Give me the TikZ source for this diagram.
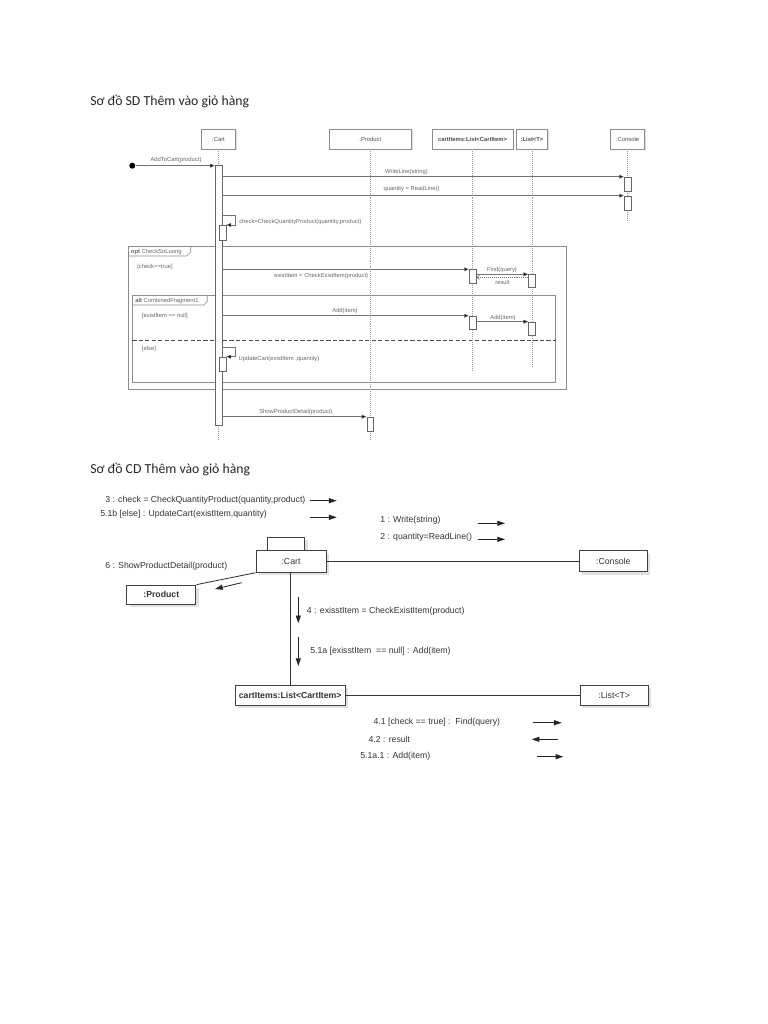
\documentclass[tikz,border=0pt]{standalone}
\usepackage{fontspec}
\setmainfont{Liberation Sans}
\newfontfamily\titlefont{Carlito}
\usetikzlibrary{arrows.meta,shadows}

\begin{document}
\begin{tikzpicture}[x=0.025cm,y=-0.025cm,
                title/.style={font=\titlefont\fontsize{9.8}{11}\selectfont, text=black!85, anchor=west, inner sep=0},
                sdtext/.style={font=\fontsize{4.15}{5}\selectfont, text=black!60, inner sep=0},
                cdtext/.style={font=\fontsize{6.2}{7}\selectfont, text=black!80, anchor=west, inner sep=0},
                lifehead/.style={draw=black!45, fill=white, line width=0.4pt, minimum height=0.5cm, inner sep=0,
                        font=\fontsize{4.15}{5}\selectfont, text=black!70,
                        drop shadow={shadow xshift=0.8pt, shadow yshift=-0.8pt, fill=black!12, opacity=1}},
                lifeline/.style={draw=black!40, line width=0.35pt, dash pattern=on 0.7pt off 0.7pt},
                actbar/.style={draw=black!60, fill=white, line width=0.4pt, anchor=north, minimum width=0.17cm, inner sep=0},
                msg/.style={draw=black!55, line width=0.4pt, -{Triangle[length=3.5pt,width=2.8pt,fill=black]}},
                retmsg/.style={draw=black!55, line width=0.4pt, dash pattern=on 0.7pt off 0.7pt, -{Straight Barb[length=2pt,width=3pt]}},
                fragline/.style={draw=black!45, line width=0.45pt},
                guardline/.style={draw=black!70, line width=0.7pt, dash pattern=on 3pt off 1.6pt},
                startdot/.style={circle, fill=black, inner sep=0, minimum size=0.15cm},
                cdbox/.style={draw=black!75, fill=white, line width=0.6pt, inner sep=0,
                        font=\fontsize{6.2}{7}\selectfont, text=black!80,
                        drop shadow={shadow xshift=2pt, shadow yshift=-2pt, fill=black!12, opacity=1}},
                cdlink/.style={draw=black!80, line width=0.6pt},
                cdmsg/.style={draw=black!85, line width=0.6pt, -{Triangle[length=5.5pt,width=3.6pt]}}]

                \useasboundingbox (0,0) rectangle (768,1024);

                \node[title] (sdtitle) at (90,102) {Sơ đồ SD Thêm vào giỏ hàng};

                \draw[fragline] (128.3,246) rectangle (566.7,389);
                \draw[fragline] (128.3,256) -- (186.7,256) -- (190.7,252) -- (190.7,246);
                \node[sdtext, anchor=west] (optlbl) at (130.7,251.5) {\textbf{opt} CheckSoLuong};

                \draw[fragline] (132.3,295) rectangle (555.7,382.7);
                \draw[fragline] (132.3,305) -- (204,305) -- (207.3,301) -- (207.3,295);
                \node[sdtext, anchor=west] (altlbl) at (135,300.5) {\textbf{alt} CombinedFragment1};
                \draw[guardline] (132.3,340) -- (555.7,340);

                \node[sdtext, anchor=west] (guard1) at (137,267) {[check==true]};
                \node[sdtext, anchor=west] (guard2) at (141.7,316) {[existItem == null]};
                \node[sdtext, anchor=west] (guard3) at (141.7,349.3) {[else]};

                \node[lifehead, minimum width=0.85cm] (cart) at (218.5,139) {:Cart};
                \node[lifehead, minimum width=2.06cm] (product) at (370.3,139) {:Product};
                \node[lifehead, minimum width=2.01cm, font=\bfseries\fontsize{4.15}{5}\selectfont] (items) at (472.6,139) {cartItems:List<CartItem>};
                \node[lifehead, minimum width=0.78cm, font=\bfseries\fontsize{4.15}{5}\selectfont] (listt) at (532,139) {:List<T>};
                \node[lifehead, minimum width=0.85cm] (console) at (627.6,139) {:Console};

                \coordinate (cartend) at (218.5,439);
                \coordinate (productend) at (370.3,439);
                \coordinate (itemsend) at (472.6,371);
                \coordinate (listtend) at (532,367);
                \coordinate (consoleend) at (627.6,222);

                \draw[lifeline] (cart) -- (cartend);
                \draw[lifeline] (product) -- (productend);
                \draw[lifeline] (items) -- (itemsend);
                \draw[lifeline] (listt) -- (listtend);
                \draw[lifeline] (console) -- (consoleend);

                \node[actbar, minimum height=6.49cm] (cartbar) at (218.5,165.5) {};
                \node[actbar, minimum height=0.38cm] (checkbar) at (222.5,225) {};
                \node[actbar, minimum height=0.35cm] (updbar) at (222.5,356.7) {};
                \node[actbar, minimum height=0.35cm] (conbar1) at (627.6,176.7) {};
                \node[actbar, minimum height=0.36cm] (conbar2) at (627.6,195.7) {};
                \node[actbar, minimum height=0.335cm] (itembar1) at (472.6,269.3) {};
                \node[actbar, minimum height=0.325cm] (listbar1) at (532,274.3) {};
                \node[actbar, minimum height=0.34cm] (itembar2) at (472.6,315.7) {};
                \node[actbar, minimum height=0.333cm] (listbar2) at (532,321.7) {};
                \node[actbar, minimum height=0.35cm] (prodbar) at (370.3,416.7) {};

                \node[startdot] (start) at (132.3,165.7) {};
                \draw[msg] (start) -- (start -| cartbar.west);
                \node[sdtext] (addlbl) at (176,160) {AddToCart(product)};

                \draw[msg] (cartbar.east |- conbar1.north) -- (conbar1.north west);
                \node[sdtext] (writelbl) at (406.5,172.3) {WriteLine(string)};
                \draw[msg] (cartbar.east |- conbar2.north) -- (conbar2.north west);
                \node[sdtext] (readlbl) at (411.5,188.5) {quantity = ReadLine()};

                \coordinate (checkturn) at (235.7,215.7);
                \draw[msg] (cartbar.east |- checkturn) -- (checkturn) |- (checkbar.north east);
                \node[sdtext, anchor=west] (checklbl) at (239,221.7) {check=CheckQuantityProduct(quantity,product)};

                \draw[msg] (cartbar.east |- itembar1.north) -- (itembar1.north west);
                \node[sdtext] (existlbl) at (321.2,275.7) {existItem = CheckExistItem(product)};
                \draw[msg] (itembar1.east |- listbar1.north) -- (listbar1.north west);
                \node[sdtext] (findlbl) at (502,270) {Find(query)};
                \coordinate (resmid) at (502.5,277.3);
                \draw[retmsg] (listbar1.west |- resmid) -- (itembar1.east |- resmid);
                \node[sdtext] (reslbl) at (502.5,282.5) {result};

                \draw[msg] (cartbar.east |- itembar2.north) -- (itembar2.north west);
                \node[sdtext] (add1lbl) at (345,310.7) {Add(item)};
                \draw[msg] (itembar2.east |- listbar2.north) -- (listbar2.north west);
                \node[sdtext] (add2lbl) at (503,317.7) {Add(item)};

                \coordinate (updturn) at (235.7,347.3);
                \draw[msg] (cartbar.east |- updturn) -- (updturn) |- (updbar.north east);
                \node[sdtext, anchor=west] (updlbl) at (238.3,359) {UpdateCart(existItem ,quantity)};

                \draw[msg] (cartbar.east |- prodbar.north) -- (prodbar.north west);
                \node[sdtext] (showlbl) at (295.8,411.7) {ShowProductDetail(product)};

                \node[title] (cdtitle) at (90,470) {Sơ đồ CD Thêm vào giỏ hàng};

                \node[cdbox, minimum width=0.93cm, minimum height=0.335cm] (carttab) at (286.3,544) {};
                \node[cdbox, minimum width=1.75cm, minimum height=0.54cm] (cdcart) at (291,561.5) {:Cart};
                \node[cdbox, minimum width=1.7cm, minimum height=0.525cm] (cdconsole) at (613.3,561.2) {:Console};
                \node[cdbox, minimum width=1.73cm, minimum height=0.48cm, font=\bfseries\fontsize{6.2}{7}\selectfont] (cdproduct) at (161.3,594.7) {:Product};
                \node[cdbox, minimum width=2.76cm, minimum height=0.5cm, font=\bfseries\fontsize{6.2}{7}\selectfont] (cditems) at (290.2,695) {cartItems:List<CartItem>};
                \node[cdbox, minimum width=1.71cm, minimum height=0.5cm] (cdlist) at (614.2,695) {:List<T>};

                \draw[cdlink] (cdcart.east) -- (cdcart.east -| cdconsole.west);
                \draw[cdlink] (cdcart.south west) -- (cdproduct.north east);
                \draw[cdlink] (cdcart.south -| cditems.north) -- (cditems.north);
                \draw[cdlink] (cditems.east) -- (cdlist.west);

                \node[cdtext] (m3) at (105,500) {3 : check = CheckQuantityProduct(quantity,product)};
                \node[cdtext] (m51b) at (100,514) {5.1b [else] : UpdateCart(existItem,quantity)};
                \node[cdtext] (m1) at (380,520.7) {1 : Write(string)};
                \node[cdtext] (m2) at (380,537.3) {2 : quantity=ReadLine()};
                \node[cdtext] (m6) at (105,566.7) {6 : ShowProductDetail(product)};
                \node[cdtext] (m4) at (306.7,611.7) {4 : exisstItem = CheckExistItem(product)};
                \node[cdtext] (m51a) at (310,651.7) {5.1a [exisstItem\ \ == null] : Add(item)};
                \node[cdtext] (m41) at (373.3,722.7) {4.1 [check == true] :\ \ Find(query)};
                \node[cdtext] (m42) at (368.3,739.3) {4.2 : result};
                \node[cdtext] (m51a1) at (360,756) {5.1a.1 : Add(item)};

                \coordinate (a3s) at (310,500.7);
                \coordinate (a3e) at (336.7,500.7);
                \coordinate (a51bs) at (310,517.3);
                \coordinate (a51be) at (336.7,517.3);
                \coordinate (a1s) at (478.3,523.3);
                \coordinate (a1e) at (505,523.3);
                \coordinate (a2s) at (478.3,539.3);
                \coordinate (a2e) at (505,539.3);
                \coordinate (a6s) at (241.7,582.7);
                \coordinate (a6e) at (215,589);
                \coordinate (a4s) at (298.3,596.7);
                \coordinate (a4e) at (298.3,623.3);
                \coordinate (a51as) at (298.3,636.7);
                \coordinate (a51ae) at (298.3,666);
                \coordinate (a41s) at (533.3,722.7);
                \coordinate (a41e) at (561.7,722.7);
                \coordinate (a42s) at (558.3,739.3);
                \coordinate (a42e) at (531.7,739.3);
                \coordinate (a51a1s) at (536.7,756.7);
                \coordinate (a51a1e) at (563.3,756.7);

                \draw[cdmsg] (a3s) -- (a3e);
                \draw[cdmsg] (a51bs) -- (a51be);
                \draw[cdmsg] (a1s) -- (a1e);
                \draw[cdmsg] (a2s) -- (a2e);
                \draw[cdmsg] (a6s) -- (a6e);
                \draw[cdmsg] (a4s) -- (a4e);
                \draw[cdmsg] (a51as) -- (a51ae);
                \draw[cdmsg] (a41s) -- (a41e);
                \draw[cdmsg] (a42s) -- (a42e);
                \draw[cdmsg] (a51a1s) -- (a51a1e);
            \end{tikzpicture}
\end{document}
